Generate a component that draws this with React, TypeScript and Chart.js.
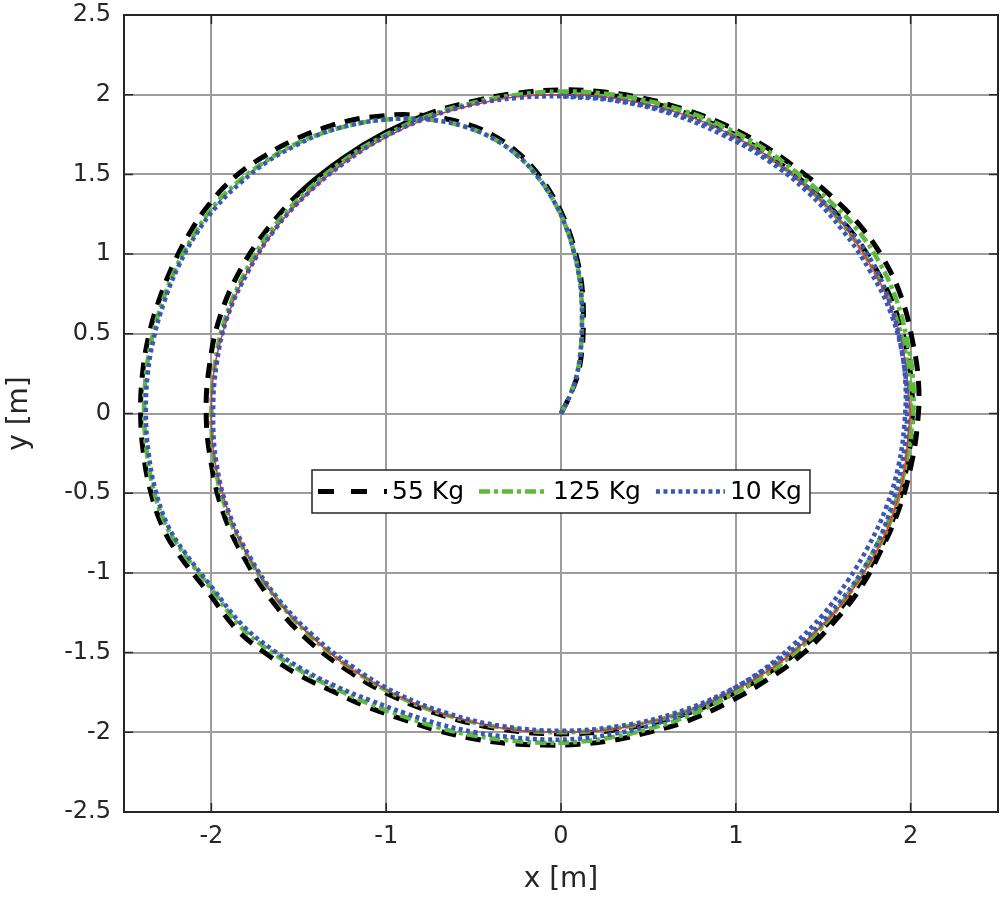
import React, { useEffect, useRef } from "react";
import { Chart, registerables } from "chart.js";

Chart.register(...registerables);

// ---------- data ----------
const X_TICKS = [-2, -1, 0, 1, 2];
const Y_TICKS = [-2.5, -2, -1.5, -1, -0.5, 0, 0.5, 1, 1.5, 2, 2.5];
const LEGEND_LABELS = ["55 Kg", "125 Kg", "10 Kg"];

// 55 Kg trajectory
const BLACK_X = [0, 0.05, 0.095, 0.12, 0.128, 0.126, 0.112, 0.08, 0.03, -0.04, -0.13, -0.24, -0.38, -0.55, -0.72, -0.88, -1.04, -1.2, -1.36, -1.52, -1.69, -1.86, -2.0, -2.12, -2.22, -2.3, -2.36, -2.395, -2.405, -2.39, -2.35, -2.28, -2.19, -2.02, -1.85, -1.67, -1.5, -1.31, -1.11, -0.9, -0.7, -0.5, -0.3, -0.1, 0.1, 0.3, 0.5, 0.72, 0.96, 1.18, 1.38, 1.56, 1.71, 1.83, 1.93, 2.0, 2.04, 2.045, 2.01, 1.95, 1.85, 1.71, 1.55, 1.37, 1.16, 0.94, 0.7, 0.46, 0.22, 0, -0.25, -0.5, -0.76, -1.01, -1.25, -1.48, -1.67, -1.83, -1.95, -2.01, -2.03, -2.0, -1.93, -1.81, -1.65, -1.45, -1.21, -0.95, -0.66, -0.34, 0, 0.34, 0.67, 0.96, 1.21, 1.43, 1.63, 1.79, 1.91, 1.98, 2.01, 1.99, 1.92, 1.8, 1.64, 1.43, 1.2, 0.94, 0.64, 0.32, 0];
const BLACK_Y = [0, 0.11, 0.24, 0.4, 0.56, 0.71, 0.86, 1.02, 1.19, 1.35, 1.5, 1.63, 1.74, 1.82, 1.86, 1.875, 1.865, 1.84, 1.79, 1.72, 1.62, 1.49, 1.33, 1.14, 0.93, 0.71, 0.48, 0.24, 0, -0.24, -0.48, -0.71, -0.88, -1.12, -1.36, -1.52, -1.64, -1.74, -1.84, -1.92, -1.99, -2.04, -2.07, -2.08, -2.075, -2.05, -2.0, -1.93, -1.81, -1.67, -1.51, -1.31, -1.1, -0.86, -0.61, -0.34, -0.06, 0.2, 0.46, 0.72, 0.96, 1.18, 1.36, 1.52, 1.68, 1.81, 1.91, 1.98, 2.02, 2.03, 2.01, 1.96, 1.88, 1.76, 1.6, 1.4, 1.17, 0.91, 0.61, 0.31, 0, -0.32, -0.63, -0.91, -1.18, -1.42, -1.62, -1.78, -1.9, -1.98, -2.01, -1.98, -1.9, -1.77, -1.61, -1.42, -1.18, -0.92, -0.63, -0.32, 0, 0.32, 0.63, 0.91, 1.17, 1.41, 1.61, 1.78, 1.91, 1.99, 2.01];

// 125 Kg trajectory
const GREEN_X = [0, 0.05, 0.09, 0.113, 0.12, 0.118, 0.104, 0.072, 0.025, -0.04, -0.13, -0.24, -0.38, -0.55, -0.72, -0.88, -1.04, -1.2, -1.36, -1.52, -1.68, -1.84, -1.98, -2.1, -2.2, -2.28, -2.34, -2.375, -2.385, -2.37, -2.33, -2.26, -2.17, -2.0, -1.83, -1.65, -1.48, -1.3, -1.1, -0.9, -0.7, -0.5, -0.3, -0.1, 0.1, 0.3, 0.5, 0.72, 0.95, 1.17, 1.37, 1.54, 1.68, 1.8, 1.9, 1.97, 2.01, 2.015, 1.98, 1.92, 1.82, 1.69, 1.53, 1.35, 1.15, 0.93, 0.7, 0.46, 0.22, 0, -0.25, -0.5, -0.75, -1.0, -1.24, -1.46, -1.65, -1.8, -1.92, -1.98, -2.0, -1.98, -1.91, -1.79, -1.63, -1.43, -1.2, -0.94, -0.66, -0.34, 0, 0.34, 0.66, 0.95, 1.2, 1.42, 1.62, 1.78, 1.9, 1.97, 2.0, 1.98, 1.91, 1.79, 1.63, 1.42, 1.2, 0.94, 0.64, 0.32, 0];
const GREEN_Y = [0, 0.11, 0.24, 0.4, 0.56, 0.71, 0.86, 1.02, 1.18, 1.33, 1.48, 1.61, 1.72, 1.8, 1.84, 1.85, 1.84, 1.81, 1.76, 1.69, 1.59, 1.46, 1.31, 1.12, 0.92, 0.7, 0.47, 0.24, 0, -0.24, -0.48, -0.7, -0.86, -1.1, -1.34, -1.5, -1.62, -1.72, -1.82, -1.9, -1.97, -2.02, -2.05, -2.065, -2.06, -2.03, -1.98, -1.9, -1.78, -1.64, -1.47, -1.28, -1.07, -0.84, -0.6, -0.33, -0.06, 0.2, 0.46, 0.71, 0.95, 1.16, 1.34, 1.51, 1.67, 1.8, 1.9, 1.97, 2.01, 2.02, 2.0, 1.95, 1.87, 1.75, 1.59, 1.39, 1.16, 0.9, 0.6, 0.31, 0, -0.32, -0.62, -0.9, -1.16, -1.4, -1.6, -1.77, -1.89, -1.97, -2.0, -1.97, -1.89, -1.76, -1.6, -1.41, -1.17, -0.91, -0.63, -0.32, 0, 0.32, 0.62, 0.9, 1.16, 1.41, 1.6, 1.77, 1.9, 1.98, 2.0];

// 10 Kg trajectory
const BLUE_X = [0, 0.05, 0.09, 0.113, 0.12, 0.118, 0.104, 0.072, 0.025, -0.04, -0.13, -0.24, -0.38, -0.55, -0.72, -0.88, -1.04, -1.2, -1.36, -1.52, -1.68, -1.83, -1.97, -2.09, -2.19, -2.27, -2.33, -2.365, -2.375, -2.36, -2.32, -2.25, -2.16, -1.99, -1.82, -1.64, -1.47, -1.29, -1.09, -0.89, -0.69, -0.49, -0.29, -0.09, 0.1, 0.3, 0.5, 0.71, 0.93, 1.14, 1.33, 1.5, 1.64, 1.76, 1.86, 1.93, 1.965, 1.97, 1.94, 1.88, 1.79, 1.66, 1.51, 1.33, 1.13, 0.92, 0.69, 0.45, 0.22, 0, -0.25, -0.5, -0.75, -1.0, -1.23, -1.45, -1.64, -1.79, -1.91, -1.97, -1.99, -1.97, -1.9, -1.78, -1.62, -1.42, -1.19, -0.93, -0.65, -0.34, 0, 0.34, 0.65, 0.94, 1.19, 1.41, 1.61, 1.77, 1.88, 1.95, 1.98, 1.96, 1.89, 1.77, 1.61, 1.41, 1.18, 0.92, 0.63, 0.32, 0];
const BLUE_Y = [0, 0.11, 0.24, 0.4, 0.56, 0.71, 0.86, 1.02, 1.18, 1.33, 1.48, 1.61, 1.72, 1.8, 1.84, 1.85, 1.84, 1.81, 1.76, 1.68, 1.58, 1.45, 1.3, 1.12, 0.92, 0.7, 0.47, 0.24, 0, -0.24, -0.48, -0.7, -0.86, -1.1, -1.33, -1.49, -1.61, -1.71, -1.8, -1.88, -1.95, -2.0, -2.03, -2.045, -2.04, -2.01, -1.96, -1.88, -1.76, -1.62, -1.45, -1.26, -1.05, -0.83, -0.59, -0.33, -0.06, 0.2, 0.45, 0.7, 0.93, 1.14, 1.32, 1.49, 1.64, 1.77, 1.87, 1.94, 1.98, 1.99, 1.98, 1.94, 1.86, 1.74, 1.58, 1.38, 1.15, 0.89, 0.6, 0.31, 0, -0.32, -0.62, -0.9, -1.16, -1.39, -1.59, -1.76, -1.88, -1.96, -1.99, -1.96, -1.88, -1.75, -1.59, -1.4, -1.16, -0.9, -0.62, -0.32, 0, 0.32, 0.62, 0.89, 1.15, 1.39, 1.59, 1.75, 1.88, 1.96, 1.99];

// reference circle (radius 2 m)
const REF_X = [2, 1.932, 1.732, 1.414, 1.0, 0.518, 0, -0.518, -1.0, -1.414, -1.732, -1.932, -2, -1.932, -1.732, -1.414, -1.0, -0.518, 0, 0.518, 1.0, 1.414, 1.732, 1.932, 2];
const REF_Y = [0, 0.518, 1.0, 1.414, 1.732, 1.932, 2, 1.932, 1.732, 1.414, 1.0, 0.518, 0, -0.518, -1.0, -1.414, -1.732, -1.932, -2, -1.932, -1.732, -1.414, -1.0, -0.518, 0];

// ---------- helpers ----------
const pts = (xs: number[], ys: number[]) => xs.map((x, i) => ({ x, y: ys[i] }));
const FONT = '"DejaVu Sans", "Liberation Sans", Arial, sans-serif';
const TXT = "#262626";
const BLACK_DASH = [15, 10];

const framePlugin = {
  id: "frameTicks",
  afterDatasetsDraw(chart: any) {
    const { ctx, chartArea: a, scales } = chart;
    ctx.save();
    ctx.strokeStyle = TXT;
    ctx.lineWidth = 1.5;
    ctx.setLineDash([]);
    const tl = 9;
    ctx.beginPath();
    X_TICKS.forEach((v) => {
      const px = scales.x.getPixelForValue(v);
      ctx.moveTo(px, a.bottom);
      ctx.lineTo(px, a.bottom - tl);
      ctx.moveTo(px, a.top);
      ctx.lineTo(px, a.top + tl);
    });
    Y_TICKS.forEach((v) => {
      const py = scales.y.getPixelForValue(v);
      ctx.moveTo(a.left, py);
      ctx.lineTo(a.left + tl, py);
      ctx.moveTo(a.right, py);
      ctx.lineTo(a.right - tl, py);
    });
    ctx.stroke();
    ctx.lineWidth = 2;
    ctx.strokeRect(a.left, a.top, a.right - a.left, a.bottom - a.top);

    // inner legend
    ctx.font = `25px ${FONT}`;
    const ds = LEGEND_LABELS.map((l) => chart.data.datasets.find((d: any) => d.label === l));
    const sampleLen = 69, gapText = 5, gapItem = 15, padL = 6, padR = 8, boxH = 43;
    const widths = ds.map((d: any) => ctx.measureText(d.label).width);
    const total = padL + padR + widths.reduce((s: number, w: number) => s + w, 0) + ds.length * (sampleLen + gapText) + (ds.length - 1) * gapItem;
    const cx = (a.left + a.right) / 2;
    const cy = scales.y.getPixelForValue(-0.49);
    const bx = Math.round(cx - total / 2);
    const by = Math.round(cy - boxH / 2);
    ctx.fillStyle = "#ffffff";
    ctx.fillRect(bx, by, total, boxH);
    ctx.strokeStyle = TXT;
    ctx.lineWidth = 1.5;
    ctx.strokeRect(bx, by, total, boxH);
    let x = bx + padL;
    ds.forEach((d: any, i: number) => {
      ctx.save();
      ctx.strokeStyle = d.borderColor;
      ctx.lineWidth = d.borderWidth;
      ctx.setLineDash(d.label === "55 Kg" ? [16, 17] : d.borderDash || []);
      ctx.beginPath();
      ctx.moveTo(x, cy);
      ctx.lineTo(x + sampleLen, cy);
      ctx.stroke();
      ctx.restore();
      x += sampleLen + gapText;
      ctx.fillStyle = "#000";
      ctx.textAlign = "left";
      ctx.textBaseline = "middle";
      ctx.fillText(d.label, x, cy + 1);
      x += widths[i] + gapItem;
    });
    ctx.restore();
  },
};

export default function App() {
  const ref = useRef<HTMLCanvasElement | null>(null);
  useEffect(() => {
    document.body.style.margin = "0";
    const canvas = ref.current;
    if (!canvas) return;
    const blackSolid = (c: any) => {
      const i = c.p0DataIndex;
      const x0 = BLACK_X[i], x1 = BLACK_X[i + 1];
      return i > 60 && BLACK_Y[i] > 1.3 && x0 <= -0.7 && x1 >= -1.5 ? [] : BLACK_DASH;
    };
    const chart = new Chart(canvas, {
      type: "scatter",
      data: {
        datasets: [
          { label: "10 Kg", data: pts(BLUE_X, BLUE_Y), borderColor: "#3a57b6", borderWidth: 4.5, borderDash: [4, 3.5], showLine: true, pointRadius: 0, tension: 0.4, order: 0 } as any,
          { label: "ref", data: pts(REF_X, REF_Y), borderColor: "#ff2a2a", borderWidth: 1.5, showLine: true, pointRadius: 0, tension: 0.4, order: 1 } as any,
          { label: "125 Kg", data: pts(GREEN_X, GREEN_Y), borderColor: "#5cba3c", borderWidth: 4.5, borderDash: [11, 4, 4, 4], showLine: true, pointRadius: 0, tension: 0.4, order: 2 } as any,
          { label: "55 Kg", data: pts(BLACK_X, BLACK_Y), borderColor: "#000000", borderWidth: 5, borderDash: BLACK_DASH, showLine: true, pointRadius: 0, tension: 0.4, order: 3, segment: { borderDash: blackSolid } } as any,
        ],
      },
      options: {
        animation: false,
        responsive: false,
        devicePixelRatio: 1,
        layout: { padding: { top: 15, right: 4, bottom: 0, left: 0 } },
        plugins: { legend: { display: false }, tooltip: { enabled: false } },
        scales: {
          x: {
            type: "linear",
            min: -2.5,
            max: 2.5,
            afterBuildTicks: (s: any) => { s.ticks = X_TICKS.map((v) => ({ value: v })); },
            afterFit: (s: any) => { s.height = 90; s.paddingLeft = 0; s.paddingRight = 0; },
            ticks: { font: { family: FONT, size: 24 }, color: TXT, padding: 10, maxRotation: 0, autoSkip: false, callback: (v: any) => String(v) },
            grid: { color: "#9c9c9c", lineWidth: 2, drawTicks: false },
            border: { display: false },
            title: { display: true, text: "x [m]", font: { family: FONT, size: 28 }, color: TXT, padding: { top: 0, bottom: 5 } },
          },
          y: {
            type: "linear",
            min: -2.5,
            max: 2.5,
            afterBuildTicks: (s: any) => { s.ticks = Y_TICKS.map((v) => ({ value: v })); },
            afterFit: (s: any) => { s.width = 124; s.paddingTop = 0; s.paddingBottom = 0; },
            ticks: { font: { family: FONT, size: 24 }, color: TXT, padding: 13, autoSkip: false, callback: (v: any) => String(v) },
            grid: { color: "#9c9c9c", lineWidth: 2, drawTicks: false },
            border: { display: false },
            title: { display: true, text: "y [m]", font: { family: FONT, size: 28 }, color: TXT, padding: { top: 3, bottom: 0 } },
          },
        },
      },
      plugins: [framePlugin],
    });
    return () => chart.destroy();
  }, []);
  return (
    <div style={{ position: "absolute", left: 0, top: 0, width: 1002, height: 902, background: "#fff" }}>
      <canvas ref={ref} width={1002} height={902} style={{ display: "block" }} />
    </div>
  );
}
